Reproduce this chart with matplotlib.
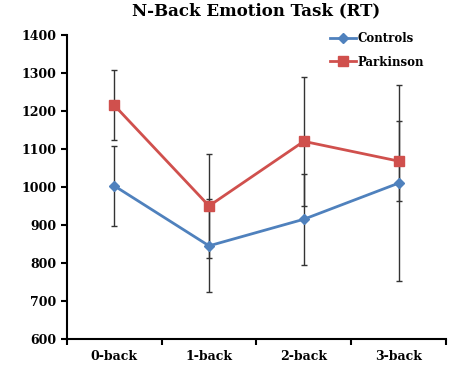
import matplotlib.pyplot as plt
from matplotlib.lines import Line2D

conditions = ['0-back', '1-back', '2-back', '3-back']
controls = [1003, 845, 915, 1010]
controls_err = [105, 122, 120, 258]
parkinson = [1215, 950, 1120, 1068]
parkinson_err = [92, 137, 170, 105]

blue = '#4F81BD'
red = '#D0504D'

plt.rcParams['font.family'] = 'DejaVu Serif'
plt.rcParams['font.weight'] = 'bold'

fig = plt.figure(figsize=(4.74, 3.68), dpi=100)
ax = fig.add_axes([0.141, 0.079, 0.80, 0.826])

x = range(len(conditions))
ax.errorbar(x, controls, yerr=controls_err, color=blue, marker='D', markersize=5,
            linewidth=2, ecolor='#333333', elinewidth=1, capsize=2.5, capthick=1)
ax.errorbar(x, parkinson, yerr=parkinson_err, color=red, marker='s', markersize=7,
            linewidth=2, ecolor='#333333', elinewidth=1, capsize=2.5, capthick=1)

ax.set_xlim(-0.5, 3.5)
ax.set_ylim(600, 1400)
ax.set_yticks(range(600, 1401, 100))
ax.set_xticks(list(x))
ax.set_xticklabels(conditions)
ax.set_xticks([-0.5, 0.5, 1.5, 2.5, 3.5], minor=True)
ax.tick_params(axis='x', which='major', length=0, pad=8, labelsize=9)
ax.tick_params(axis='x', which='minor', length=4, width=1.5, direction='out')
ax.tick_params(axis='y', length=4, width=1.5, labelsize=9)

for s in ['top', 'right']:
    ax.spines[s].set_visible(False)
for s in ['left', 'bottom']:
    ax.spines[s].set_linewidth(1.5)

ax.set_title('N-Back Emotion Task (RT)', fontsize=12, fontweight='bold', pad=14)

handles = [Line2D([], [], color=blue, marker='D', markersize=5, linewidth=2),
           Line2D([], [], color=red, marker='s', markersize=7, linewidth=2)]
ax.legend(handles, ['Controls', 'Parkinson'], loc='upper right', bbox_to_anchor=(0.97, 1.045),
          frameon=False, fontsize=8.5, handlelength=2.2, handletextpad=0.1, labelspacing=0.9)

fig.savefig('out.png', dpi=100)
